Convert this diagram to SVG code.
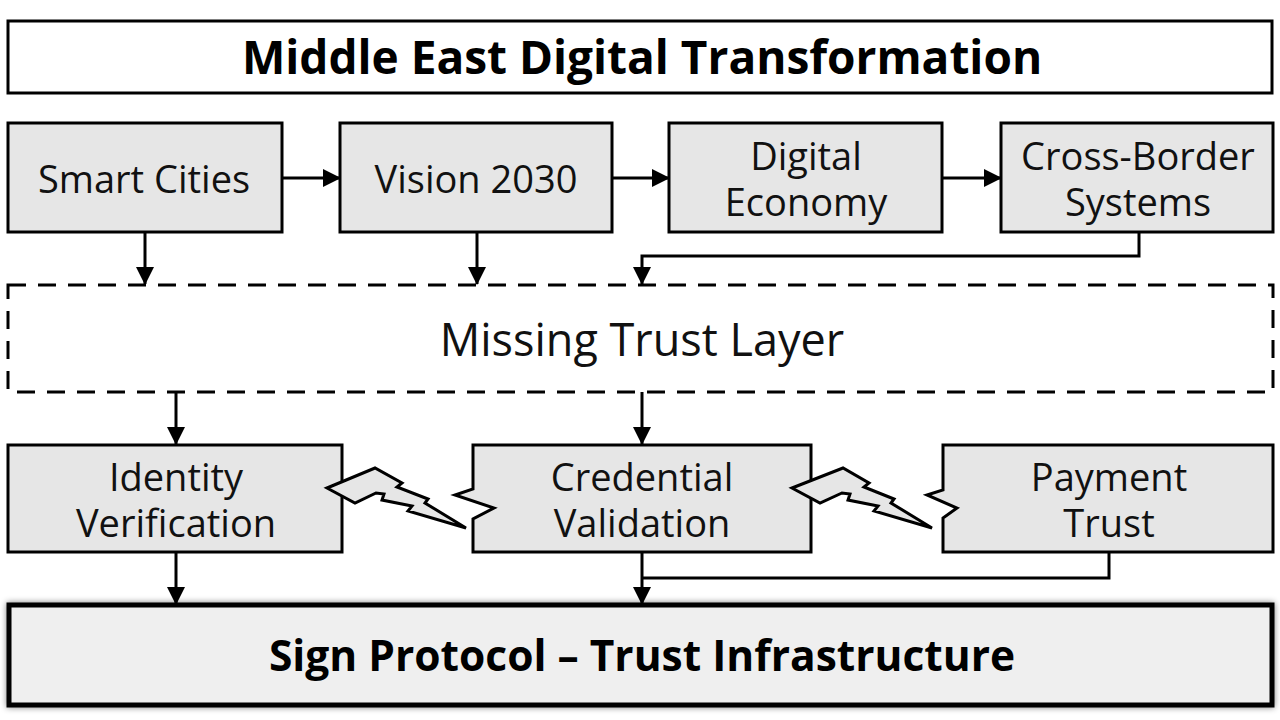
<svg xmlns="http://www.w3.org/2000/svg" width="1280" height="720" viewBox="0 0 1280 720">
<defs>
<marker id="ah" markerWidth="18" markerHeight="18" refX="17" refY="9" orient="auto" markerUnits="userSpaceOnUse">
<path d="M0,0 L18,9 L0,18 Z" fill="#000"/>
</marker>
<filter id="sh" x="-5%" y="-20%" width="110%" height="140%">
<feGaussianBlur in="SourceAlpha" stdDeviation="3"/>
<feComponentTransfer><feFuncA type="linear" slope="0.5"/></feComponentTransfer>
<feMerge><feMergeNode/><feMergeNode in="SourceGraphic"/></feMerge>
</filter>
</defs>
<style>
.box{fill:#e6e6e6;stroke:#000;stroke-width:3}
.t{font-family:"Open Sans","Noto Sans",sans-serif;font-size:38px;fill:#111;text-anchor:middle}
.ttl{font-family:"Open Sans","Noto Sans",sans-serif;font-weight:bold;font-size:46px;fill:#000;text-anchor:middle}
.sg{font-family:"Open Sans","Noto Sans",sans-serif;font-weight:bold;font-size:42.5px;fill:#000;text-anchor:middle}
.ms{font-family:"Open Sans","Noto Sans",sans-serif;font-size:45px;fill:#111;text-anchor:middle}
.c{fill:none;stroke:#000;stroke-width:3}
.bolt{fill:#e6e6e6;stroke:#000;stroke-width:3;stroke-linejoin:miter}
</style>
<rect width="1280" height="720" fill="#fff"/>
<g id="title">
<rect x="8" y="21" width="1264" height="72" fill="#fff" stroke="#000" stroke-width="3"/>
<text class="ttl" x="642" y="74">Middle East Digital Transformation</text>
</g>
<g id="smart-cities">
<rect class="box" x="8" y="123" width="274" height="109"/>
<text class="t" x="144" y="193">Smart Cities</text>
</g>
<g id="vision-2030">
<rect class="box" x="340" y="123" width="272" height="109"/>
<text class="t" x="476" y="193">Vision 2030</text>
</g>
<g id="digital-economy">
<rect class="box" x="669" y="123" width="273" height="109"/>
<text class="t" x="806" y="170">Digital</text>
<text class="t" x="806" y="216">Economy</text>
</g>
<g id="cross-border">
<rect class="box" x="1001" y="123" width="272" height="109"/>
<text class="t" x="1138" y="170">Cross-Border</text>
<text class="t" x="1138" y="216">Systems</text>
</g>
<g id="missing-trust">
<rect x="8" y="285" width="1265" height="107" fill="#fff" stroke="#000" stroke-width="3" stroke-dasharray="18 12"/>
<text class="ms" x="642" y="356">Missing Trust Layer</text>
</g>
<g id="identity">
<rect class="box" x="8" y="445" width="334" height="107"/>
<text class="t" x="176" y="491">Identity</text>
<text class="t" x="176" y="537">Verification</text>
</g>
<g id="credential">
<path class="box" d="M473,445 H811 V552 H473 V519 L494,508 L455,495 L473,489 Z"/>
<text class="t" x="642" y="491">Credential</text>
<text class="t" x="642" y="537">Validation</text>
</g>
<g id="payment">
<path class="box" d="M943,445 H1273 V552 H943 V518 L957,508 L927,495 L943,490 Z"/>
<text class="t" x="1109" y="491">Payment</text>
<text class="t" x="1109" y="537">Trust</text>
</g>
<g id="sign-protocol">
<rect x="9" y="605" width="1263" height="100" fill="#efefef" stroke="#000" stroke-width="5" filter="url(#sh)"/>
<text class="sg" x="642" y="671">Sign Protocol – Trust Infrastructure</text>
</g>
<g id="bolts">
<path class="bolt" d="M327,488 L375,468 L402,483 L397,487 L428,499 L425,503 L466,528 L408,511 L412,506 L382,500 L384,494 L376,493 L355,503 Z"/>
<path class="bolt" d="M792,488 L843,468 L869,483 L864,487 L894,499 L891,503 L932,528 L874,511 L878,506 L848,500 L850,494 L842,493 L820,503 Z"/>
</g>
<g id="connectors">
<path class="c" d="M282,178 H340" marker-end="url(#ah)"/>
<path class="c" d="M612,178 H669" marker-end="url(#ah)"/>
<path class="c" d="M942,178 H1001" marker-end="url(#ah)"/>
<path class="c" d="M145,232 V284" marker-end="url(#ah)"/>
<path class="c" d="M477,232 V284" marker-end="url(#ah)"/>
<path class="c" d="M1139,232 V256 H642 V284" marker-end="url(#ah)"/>
<path class="c" d="M176,392 V444" marker-end="url(#ah)"/>
<path class="c" d="M642,392 V444" marker-end="url(#ah)"/>
<path class="c" d="M176,552 V604" marker-end="url(#ah)"/>
<path class="c" d="M642,552 V604" marker-end="url(#ah)"/>
<path class="c" d="M1109,552 V578 H642"/>
</g>
</svg>
